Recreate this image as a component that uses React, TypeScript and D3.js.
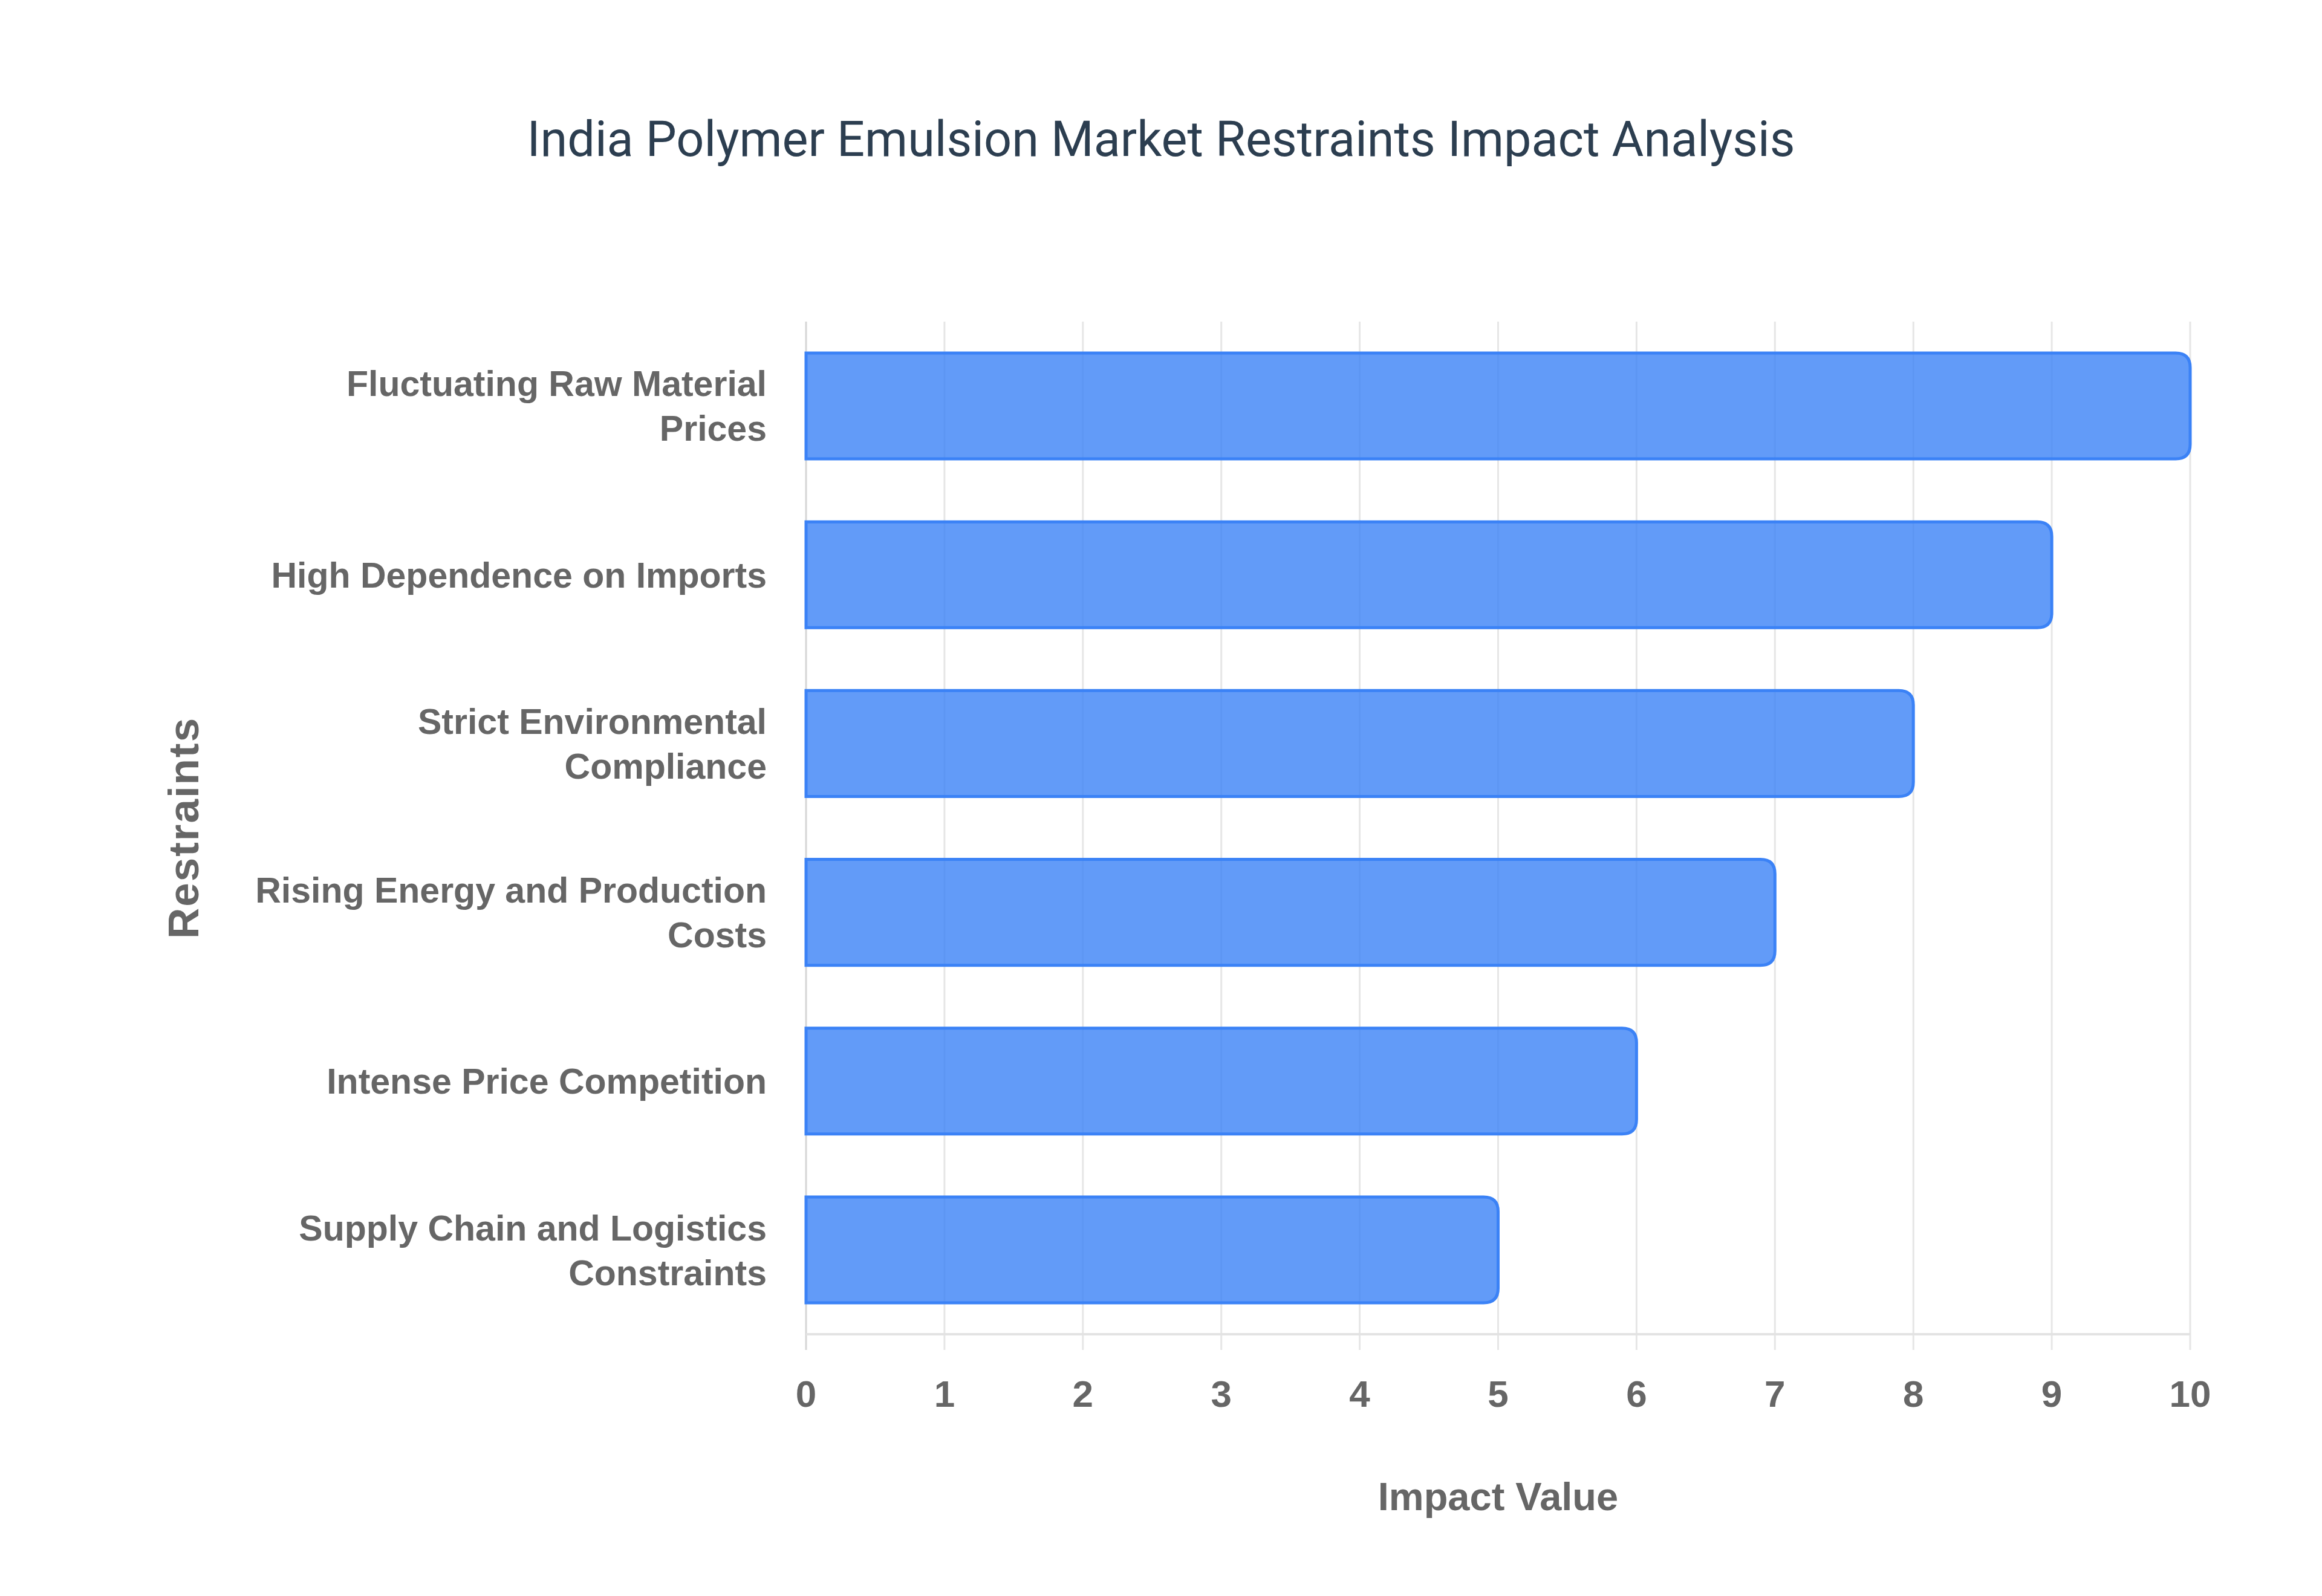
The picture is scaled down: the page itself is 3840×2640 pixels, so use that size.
import React, { useEffect, useRef } from "react";
import * as d3 from "d3";

const restraints = [
  "Fluctuating Raw Material Prices",
  "High Dependence on Imports",
  "Strict Environmental Compliance",
  "Rising Energy and Production Costs",
  "Intense Price Competition",
  "Supply Chain and Logistics Constraints",
];

const labelLines = [
  ["Fluctuating Raw Material", "Prices"],
  ["High Dependence on Imports"],
  ["Strict Environmental", "Compliance"],
  ["Rising Energy and Production", "Costs"],
  ["Intense Price Competition"],
  ["Supply Chain and Logistics", "Constraints"],
];

const impactValues = [10, 9, 8, 7, 6, 5];

const xTicks = [0, 1, 2, 3, 4, 5, 6, 7, 8, 9, 10];

const chartTitle = "India Polymer Emulsion Market Restraints Impact Analysis";
const xTitle = "Impact Value";
const yTitle = "Restraints";

export default function App() {
  const svgRef = useRef<SVGSVGElement | null>(null);

  const drawChart = () => {
    if (!svgRef.current) return;
    document.body.style.margin = "0";

    const width = 3840;
    const height = 2640;
    const margin = { top: 532, right: 218, bottom: 433, left: 1333 };
    const labelFont = "'Liberation Sans', Arial, Helvetica, sans-serif";
    const textGray = "#666666";

    const svg = d3.select(svgRef.current)
      .attr("width", width)
      .attr("height", height);
    svg.selectAll("*").remove();

    svg.append("rect")
      .attr("width", width)
      .attr("height", height)
      .attr("fill", "#ffffff");

    const x = d3.scaleLinear()
      .domain([0, 10])
      .range([margin.left, width - margin.right]);

    const y = d3.scaleBand()
      .domain(restraints)
      .range([margin.top, height - margin.bottom])
      .paddingInner(0.373)
      .paddingOuter(0.186);

    const plotBottom = height - margin.bottom;

    // vertical grid lines, running a little past the axis as ticks
    svg.append("g")
      .selectAll("line")
      .data(xTicks)
      .join("line")
      .attr("x1", d => x(d))
      .attr("x2", d => x(d))
      .attr("y1", margin.top)
      .attr("y2", plotBottom + 26)
      .attr("stroke", d => (d === 0 ? "#d6d6d6" : "#e6e6e6"))
      .attr("stroke-width", 3);

    // bottom axis line
    svg.append("line")
      .attr("x1", x(0))
      .attr("x2", x(10))
      .attr("y1", plotBottom)
      .attr("y2", plotBottom)
      .attr("stroke", "#e3e3e3")
      .attr("stroke-width", 4);

    // bars with rounded right end
    const r = 24;
    const barPath = (v: number, name: string) => {
      const x0 = x(0);
      const x1 = x(v);
      const y0 = y(name) || 0;
      const h = y.bandwidth();
      return `M${x0},${y0} H${x1 - r} Q${x1},${y0} ${x1},${y0 + r} V${y0 + h - r} Q${x1},${y0 + h} ${x1 - r},${y0 + h} H${x0} Z`;
    };

    svg.append("g")
      .selectAll("path")
      .data(impactValues)
      .join("path")
      .attr("d", (d, i) => barPath(d, restraints[i]))
      .attr("fill", "rgba(59, 130, 246, 0.8)")
      .attr("stroke", "#3b82f6")
      .attr("stroke-width", 5);

    // category labels
    const lineGap = 74;
    const yLabels = svg.append("g")
      .selectAll("text")
      .data(restraints)
      .join("text")
      .attr("text-anchor", "end")
      .attr("fill", textGray)
      .attr("font-family", labelFont)
      .attr("font-weight", "bold")
      .attr("font-size", 59);

    yLabels.each(function (name, i) {
      const lines = labelLines[i];
      const cy = (y(name) || 0) + y.bandwidth() / 2;
      d3.select(this)
        .selectAll("tspan")
        .data(lines)
        .join("tspan")
        .attr("x", x(0) - 65)
        .attr("y", (_, j) => cy + (j - (lines.length - 1) / 2) * lineGap + 21)
        .text(t => t);
    });

    // x tick labels
    svg.append("g")
      .selectAll("text")
      .data(xTicks)
      .join("text")
      .attr("x", d => x(d))
      .attr("y", 2327)
      .attr("text-anchor", "middle")
      .attr("fill", textGray)
      .attr("font-family", labelFont)
      .attr("font-weight", "bold")
      .attr("font-size", 62)
      .text(d => String(d));

    // axis titles
    svg.append("text")
      .attr("x", (x(0) + x(10)) / 2)
      .attr("y", 2498)
      .attr("text-anchor", "middle")
      .attr("fill", textGray)
      .attr("font-family", labelFont)
      .attr("font-weight", "bold")
      .attr("font-size", 65)
      .text(xTitle);

    svg.append("text")
      .attr("transform", `translate(328, ${(margin.top + plotBottom) / 2}) rotate(-90)`)
      .attr("text-anchor", "middle")
      .attr("fill", textGray)
      .attr("font-family", labelFont)
      .attr("font-weight", "bold")
      .attr("font-size", 71)
      .attr("letter-spacing", 2)
      .text(yTitle);

    // chart title
    svg.append("text")
      .attr("x", width / 2)
      .attr("y", 258)
      .attr("text-anchor", "middle")
      .attr("fill", "#2c3e50")
      .attr("font-family", "Roboto, 'Noto Sans', sans-serif")
      .attr("font-size", 81)
      .text(chartTitle);
  };

  useEffect(() => {
    drawChart();
  }, []);

  return (
    <div style={{ width: 3840, height: 2640 }}>
      <svg ref={svgRef} style={{ display: "block" }} />
    </div>
  );
}
